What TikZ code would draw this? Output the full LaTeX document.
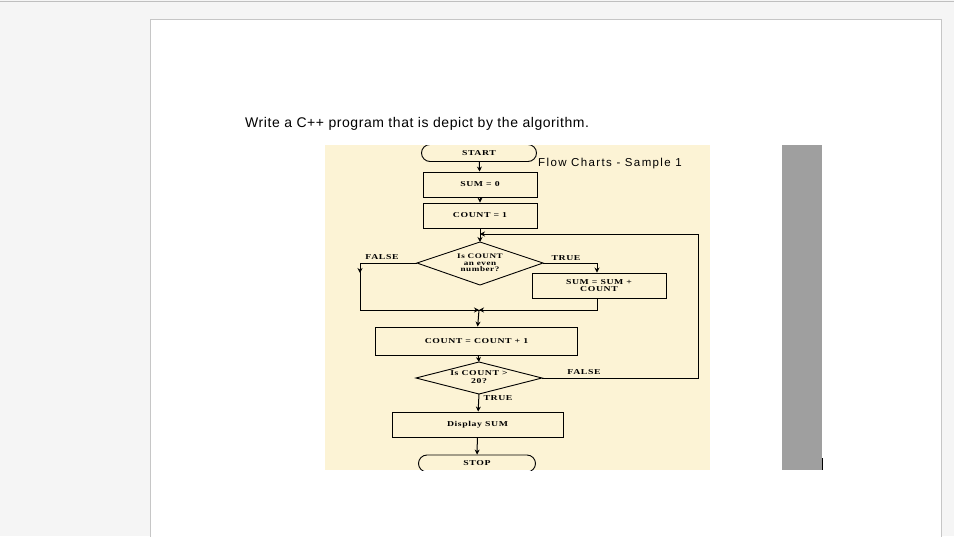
\documentclass[tikz,border=0pt]{standalone}
\usepackage{fontspec}
\setmainfont{Liberation Serif}
\newfontfamily\sans{Liberation Sans}[LetterSpace=4]
\newfontfamily\sanst{Liberation Sans}[LetterSpace=12]
\newfontfamily\wide{Liberation Serif}[FakeStretch=1.3,LetterSpace=8]
\usetikzlibrary{arrows.meta,shapes.geometric}
\definecolor{cream}{HTML}{FCF3D5}
\tikzset{ff/.style={font=\wide\bfseries\fontsize{7.5}{7.5}\selectfont}}
\begin{document}
\begin{tikzpicture}[x=1pt,y=-1pt,
  box/.style={draw,line width=0.9pt,inner sep=0pt,ff,align=center},
  term/.style={draw,line width=0.9pt,rounded corners=8.5pt,inner sep=0pt,ff},
  lab/.style={ff,align=center},
  ar/.style={line width=1pt,-{Stealth[length=5pt,width=5pt]}},
  ln/.style={line width=1pt}]
\useasboundingbox (0,0) rectangle (954,536);
\fill[gray!8] (0,0) rectangle (954,536);
\draw[gray!50] (0,1) -- (954,1);
\fill[white,draw=gray!45] (150,19) rectangle (941,540);
\node[anchor=west,inner sep=0pt,font=\sans\fontsize{14}{16}\selectfont] (hdr) at (245,124) {Write a C++ program that is depict by the algorithm.};
\fill[gray!75] (782,145) rectangle (822,470);
\draw (822,458) -- (822,470);
\begin{scope}
\clip (325,145) rectangle (710,470);
\fill[cream] (325,145) rectangle (710,470);
\node[term,minimum width=115,minimum height=17] (start) at (479,153) {START};
\node[anchor=west,inner sep=0pt,font=\sanst\fontsize{11.5}{13}\selectfont] (title) at (538,164) {Flow Charts - Sample 1};
\node[box,minimum width=114,minimum height=25] (s0) at (480,184.5) {SUM = 0};
\node[box,minimum width=114,minimum height=25] (c1) at (480,215.5) {COUNT = 1};
\draw[line width=0.9pt] (417,263) coordinate (dl) -- (480,242) coordinate (dt) -- (543,263) coordinate (dr) -- (480,285) coordinate (db) -- cycle;
\node[lab,font=\wide\bfseries\fontsize{7}{6.5}\selectfont] (d1) at (480,263) {Is COUNT\\an even\\number?};
\node[box,minimum width=134,minimum height=25] (ss) at (599,285.5) {SUM = SUM +\\COUNT};
\node[box,minimum width=202,minimum height=28] (cc) at (476.5,341) {COUNT = COUNT + 1};
\draw[line width=0.9pt] (416,378) coordinate (el) -- (479,362) coordinate (et) -- (542,378) coordinate (er) -- (479,394) coordinate (eb) -- cycle;
\node[lab] (d2) at (479,377) {Is COUNT >\\20?};
\node[box,minimum width=171,minimum height=25] (disp) at (477.5,424.5) {Display SUM};
\node[term,minimum width=117,minimum height=17] (stop) at (477,463.5) {STOP};
\node[lab] (f1) at (382,257) {FALSE};
\node[lab] (t1) at (566,258) {TRUE};
\node[lab] (f2) at (584,372) {FALSE};
\node[lab] (t2) at (498,398) {TRUE};
\coordinate (m) at (479,310);
\coordinate (lp) at (360,310);
\draw[ar] (start) -- (s0);
\draw[ar] (s0) -- (c1);
\draw[ar] (c1) -- (dt);
\draw[ln] (dl) -- (360,263) -- (lp);
\draw[ar] (360,263) -- (360,273);
\draw[ar] (dr) -- (597,263) -- (ss.north -| 597,0);
\draw[ln] (ss.south -| 597,0) -- (597,310) -- (lp);
\draw[ar] (360,310) -- (m);
\draw[ar] (597,310) -- (m);
\draw[ar] (m) -- (cc);
\draw[ar] (cc) -- (et);
\draw[ln] (er) -- (698,378) -- (698,234);
\draw[ar] (698,234) -- (480,234);
\draw[ar] (eb) -- (disp);
\draw[ar] (disp) -- (stop);
\end{scope}
\end{tikzpicture}
\end{document}
